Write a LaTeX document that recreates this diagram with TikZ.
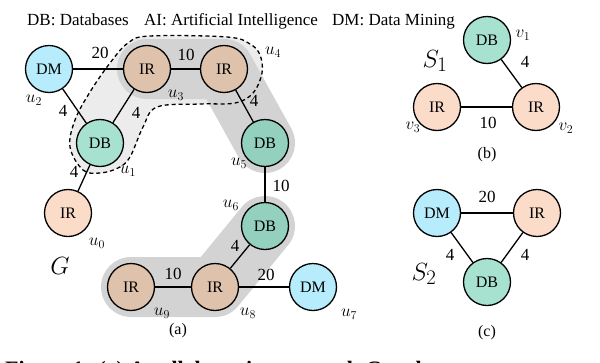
\documentclass[tikz,border=0pt]{standalone}
\usepackage{fontspec}
\setmainfont{Liberation Serif}
\usetikzlibrary{backgrounds}
\definecolor{cDM}{HTML}{B6ECFC}
\definecolor{cIRt}{HTML}{DFC2AB}
\definecolor{cIRl}{HTML}{FBDCC9}
\definecolor{cDBl}{HTML}{A7E2D1}
\definecolor{cDBd}{HTML}{93D0BE}
\definecolor{bandD}{HTML}{D3D3D3}
\definecolor{bandL}{HTML}{ECECEC}
\begin{document}
\begin{tikzpicture}[x=1pt,y=-1pt,
  nd/.style={circle, draw, line width=1.3pt, minimum size=47pt, inner sep=0pt, font=\fontsize{16}{16}\selectfont},
  dm/.style={nd, fill=cDM},
  irt/.style={nd, fill=cIRt},
  irl/.style={nd, fill=cIRl},
  dbl/.style={nd, fill=cDBl},
  dbd/.style={nd, fill=cDBd},
  edge/.style={line width=1.3pt},
  wt/.style={font=\fontsize{17}{17}\selectfont, inner sep=0pt},
  lab/.style={font=\fontsize{17}{17}\selectfont, inner sep=0pt},
  big/.style={font=\fontsize{29}{29}\selectfont, inner sep=0pt},
  band/.style={line width=60pt, line cap=round, line join=round},
  legend/.style={anchor=base west, font=\fontsize{17}{17}\selectfont, inner sep=0pt}
]
\useasboundingbox (0,0) rectangle (600,362);
\clip (0,0) rectangle (600,362);

% legend
\node[legend] (lg1) at (27,25) {DB: Databases};
\node[legend] (lg2) at (144,25) {AI: Artificial Intelligence};
\node[legend] (lg3) at (332,25) {DM: Data Mining};

% graph G nodes
\node[dm]  (u2) at (49,69) {DM};
\node[irt] (u3) at (147,69) {IR};
\node[irt] (u4) at (224,69) {IR};
\node[dbl] (u1) at (100,143) {DB};
\node[dbd] (u5) at (265,143) {DB};
\node[irl] (u0) at (68,213) {IR};
\node[dbd] (u6) at (265,226) {DB};
\node[irt] (u8) at (215,287) {IR};
\node[irt] (u9) at (131,287) {IR};
\node[dm]  (u7) at (313,287) {DM};

% shaded regions
\begin{pgfonlayer}{background}
\fill[bandL] plot[smooth cycle, tension=0.6] coordinates {(70,147) (83,170) (100,173) (118,168) (130,157) (143,127) (157,107) (200,104) (235,103) (253,93) (262,73) (260,55) (250,44) (227,37) (150,36) (128,43) (110,63) (90,92) (75,120)};
\draw[band, bandD] (u3.center) -- (u4.center) -- (u5.center);
\draw[band, bandD] (u9.center) -- (u8.center) -- (u6.center);
\draw[line width=1.3pt, dash pattern=on 4pt off 3pt] plot[smooth cycle, tension=0.6] coordinates {(70,147) (83,170) (100,173) (118,168) (130,157) (143,127) (157,107) (200,104) (235,103) (253,93) (262,73) (260,55) (250,44) (227,37) (150,36) (128,43) (110,63) (90,92) (75,120)};
\end{pgfonlayer}

% edges G
\draw[edge] (u2) -- (u3);
\draw[edge] (u2) -- (u1);
\draw[edge] (u3) -- (u1);
\draw[edge] (u3) -- (u4);
\draw[edge] (u4) -- (u5);
\draw[edge] (u1) -- (u0);
\draw[edge] (u5) -- (u6);
\draw[edge] (u6) -- (u8);
\draw[edge] (u9) -- (u8);
\draw[edge] (u8) -- (u7);

% weights G
\node[wt] (w1) at (100,53) {20};
\node[wt] (w2) at (186,55) {10};
\node[wt] (w3) at (63,111) {4};
\node[wt] (w4) at (136,113) {4};
\node[wt] (w5) at (254,101) {4};
\node[wt] (w6) at (74,172) {4};
\node[wt] (w7) at (281,186) {10};
\node[wt] (w8) at (235,246) {4};
\node[wt] (w9) at (173,274) {10};
\node[wt] (w10) at (266,275) {20};

% node names G
\node[lab] (n2) at (34,100) {$u_2$};
\node[lab] (n3) at (176,95) {$u_3$};
\node[lab] (n4) at (273,52) {$u_4$};
\node[lab] (n1) at (128,171) {$u_1$};
\node[lab] (n5) at (239,163) {$u_5$};
\node[lab] (n6) at (231,205) {$u_6$};
\node[lab] (n0) at (97,243) {$u_0$};
\node[lab] (n9) at (162,313) {$u_9$};
\node[lab] (n8) at (248,313) {$u_8$};
\node[lab] (n7) at (349,314) {$u_7$};
\node[big] (G) at (60,266) {$G$};
\node[font=\fontsize{16}{16}\selectfont, inner sep=0pt] (ca) at (178,331) {(a)};

% S1
\node[dbl] (v1) at (487,40) {DB};
\node[irl] (v2) at (536,107) {IR};
\node[irl] (v3) at (437,107) {IR};
\draw[edge] (v1) -- (v2);
\draw[edge] (v3) -- (v2);
\node[wt] (x1) at (525,62) {4};
\node[wt] (x2) at (488,123) {10};
\node[lab] (m1) at (523,35) {$v_1$};
\node[lab] (m2) at (566,128) {$v_2$};
\node[lab] (m3) at (413,127) {$v_3$};
\node[big] (S1) at (435,61) {$S_1$};
\node[font=\fontsize{16}{16}\selectfont, inner sep=0pt] (cb) at (487,155) {(b)};

% S2
\node[dm]  (s1) at (437,213) {DM};
\node[irl] (s2) at (537,213) {IR};
\node[dbl] (s3) at (487,282) {DB};
\draw[edge] (s1) -- (s2);
\draw[edge] (s1) -- (s3);
\draw[edge] (s2) -- (s3);
\node[wt] (y1) at (487,197) {20};
\node[wt] (y2) at (450,255) {4};
\node[wt] (y3) at (525,255) {4};
\node[big] (S2) at (424,274) {$S_2$};
\node[font=\fontsize{16}{16}\selectfont, inner sep=0pt] (cc) at (487,333) {(c)};

% caption (cut off by the lower edge, as in the reference)
\node[anchor=base west, inner sep=0pt, font=\bfseries\fontsize{22}{22}\selectfont] (cap) at (5,376.5) {Figure 1: (a) A collaboration network \textit{G} and two};
\end{tikzpicture}
\end{document}
